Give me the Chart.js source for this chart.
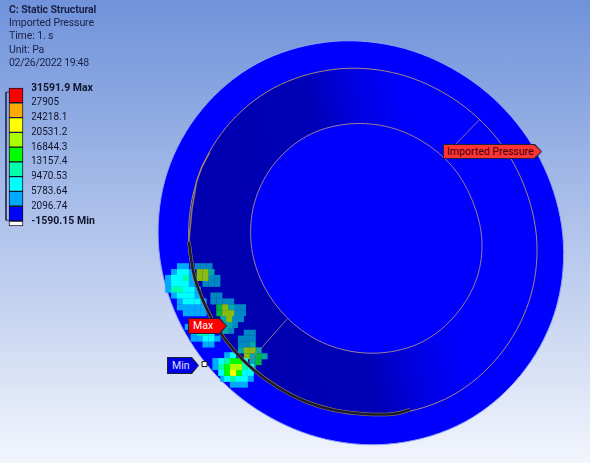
<!DOCTYPE html>
<html>
<head>
<meta charset="utf-8">
<script src="https://cdn.jsdelivr.net/npm/chart.js@4"></script>
<style>
  html, body { margin: 0; padding: 0; }
  body { width: 590px; height: 463px; overflow: hidden; background: linear-gradient(180deg, #6f92da 0%, #f2f5fc 100%); }
  #stage { position: relative; width: 590px; height: 463px; filter: blur(0.3px); font-family: Roboto, "Noto Sans", sans-serif; }
  canvas { position: absolute; display: block; }
  #main { left: 0; top: 0; }
  #legend { left: 0; top: 60px; }
  .info { position: absolute; left: 9px; font-size: 10.5px; letter-spacing: -0.1px; line-height: 13px; color: #1a2148; white-space: nowrap; }
  .tag { position: absolute; clip-path: polygon(0 0, calc(100% - 7px) 0, 100% 50%, calc(100% - 7px) 100%, 0 100%); background: #20203a; }
  .tag span { position: absolute; left: 1px; top: 1px; right: 1px; bottom: 1px; padding-left: 3px; font-size: 10.5px; white-space: nowrap;
    clip-path: polygon(0 0, calc(100% - 7px) 0, 100% 50%, calc(100% - 7px) 100%, 0 100%); }
</style>
</head>
<body>
<div id="stage">
  <canvas id="main" width="590" height="463"></canvas>
  <canvas id="legend" width="140" height="180"></canvas>
  <div class="info" style="top:3px;font-weight:700">C: Static Structural</div>
  <div class="info" style="top:16px">Imported Pressure</div>
  <div class="info" style="top:29px">Time: 1. s</div>
  <div class="info" style="top:43px">Unit: Pa</div>
  <div class="info" style="top:56px;letter-spacing:-0.3px">02/26/2022 19:48</div>
  <div class="tag" style="left:443px;top:144px;width:99px;height:15px"><span style="background:#ff3434;color:#3a0010;line-height:13px">Imported Pressure</span></div>
  <div class="tag" style="left:188px;top:318px;width:39px;height:16px"><span style="background:#ff0000;color:#fff;line-height:14px;padding-left:4px">Max</span></div>
  <div class="tag" style="left:167px;top:357px;width:32px;height:17px"><span style="background:#0000e6;color:#dfe6ff;line-height:15px;padding-left:4px">Min</span></div>
</div>
<script>
// contour legend
const contourValues = [-1590.15, 2096.74, 5783.64, 9470.53, 13157.4, 16844.3, 20531.2, 24218.1, 27905, 31591.9];
const contourLabels = ['-1590.15 Min', '2096.74', '5783.64', '9470.53', '13157.4', '16844.3', '20531.2', '24218.1', '27905', '31591.9 Max'];
const contourColors = ['#0000ff', '#00aaff', '#00ffff', '#00ffaa', '#00ff00', '#aaff00', '#ffff00', '#ffaa00', '#ff0000'];
const belowMin = -2840;

// outlines
const discEdge = [[568,243],[559,315],[524,379],[468,426],[398,448],[327,444],[262,417],[209,372],[172,312],[156,243],[165,171],[200,107],[256,60],[326,38],[397,42],[462,69],[515,114],[552,174]];
const middleRing = [[541,242],[533,303],[503,358],[455,399],[395,418],[334,414],[278,391],[232,352],[201,301],[187,242],[195,180],[225,125],[273,85],[333,66],[394,69],[450,92],[496,131],[527,182]];
const innerRing = [[485,239],[480,279],[459,316],[427,343],[388,355],[347,353],[310,338],[280,312],[259,278],[250,239],[255,198],[275,161],[307,134],[346,122],[387,124],[424,139],[455,165],[475,199]];
const contactArc = [[187,242],[192,275],[201,301],[215,329],[232,352],[253,373],[278,391],[305,405],[334,414],[365,418],[395,418],[412,414]];
const wornArc = [[208,151],[200,166],[195,180],[190,210],[187,242]];
const spokeUpper = [[483,117],[445,156]];
const spokeLower = [[287,321],[248,365]];
const bracket = [[6,89],[1,89],[1,220],[6,220]];
const minMarker = [[203,367]];

// pressure patches, one list per contour colour
const cellsBlue = [[178,267],[184,267],[172,273],[190,273],[166,279],[190,279],[166,285],[190,285],[166,291],[196,291],[172,297],[196,297],[178,303],[202,303],[178,309],[184,309],[190,309],[196,309],[202,309],[184,315],[190,315],[196,315],[202,315],[192,335],[186,329],[192,341],[198,341],[216,341],[204,347],[210,347],[226,358],[214,364],[214,370],[222,382],[250,382],[232,388],[238,388],[244,388]];
const cellsCyan = [[178,273],[184,273],[172,279],[178,279],[172,285],[178,285],[184,285],[184,291],[190,291],[178,297],[184,297],[190,297],[184,303],[190,303],[196,303],[210,335],[204,341],[210,341],[232,358],[220,364],[244,364],[250,370],[220,376],[244,376],[250,376],[226,382],[238,382],[244,382]];
const cellsFoam = [[184,279],[172,291],[178,291],[198,335],[204,335],[226,364],[220,370],[244,370],[232,382]];
const cellsGreen = [[232,364],[238,364],[226,370],[226,376],[238,376]];
const cellsLime = [[232,370],[238,370]];
const cellsYellow = [[232,376]];
const cellsSteel = [[196,267],[202,267],[208,267],[210,279],[216,279],[204,285],[210,285],[216,285],[212,297],[218,297],[212,303],[218,303],[224,303],[230,303],[236,309],[242,309],[236,315],[242,315],[234,321],[240,321],[234,327],[230,333],[246,335],[252,335],[240,341],[246,341],[252,341],[240,347],[246,347]];
const cellsTeal = [[210,273],[230,309],[222,321],[228,327],[222,327],[224,333],[252,347],[240,353],[258,353],[252,359],[264,359],[252,365],[252,371]];
const cellsOlive = [[198,273],[204,273],[198,279],[204,279],[224,309],[224,315],[230,315],[228,321],[246,353],[252,353],[246,359]];
const cellsDarkGreen = [[218,309],[218,315],[258,359],[258,365]];

const toPoints = list => list.map(p => ({ x: p[0], y: p[1] }));
// wrapped one point past both ends so the curve has proper tangents at the seam
const closed = list => toPoints([list[list.length - 1], ...list, list[0], list[1]]);

const ctx = document.getElementById('main').getContext('2d');

const ringShade = ctx.createLinearGradient(160, -35, 364, -81);
ringShade.addColorStop(0, '#0000b0');
ringShade.addColorStop(0.55, '#0000b6');
ringShade.addColorStop(0.75, '#0000dd');
ringShade.addColorStop(1, '#0000ff');

const roundness = 0.34;

function outline(data, color, width) {
  return { data: data, showLine: true, fill: false, borderColor: color, borderWidth: width, pointRadius: 0, tension: roundness };
}
// same, but the two wrapped end pieces are not stroked
function loop(list, color, width) {
  const data = closed(list);
  return { ...outline(data, color, width), segment: { borderColor: c => (c.p0DataIndex === 0 || c.p1DataIndex === data.length - 1) ? 'transparent' : undefined } };
}
function area(list, color, edge) {
  return { ...loop(list, edge || color, 1), fill: 'shape', backgroundColor: color };
}
function cells(list, color) {
  return { data: toPoints(list), showLine: false, pointStyle: 'rect', pointRadius: 4.3, pointBorderWidth: 0, pointBackgroundColor: color };
}

// first dataset ends up on top
new Chart(ctx, {
  type: 'scatter',
  data: {
    datasets: [
      { data: toPoints(minMarker), showLine: false, pointStyle: 'rect', pointRadius: 3.5, pointBorderWidth: 1, pointBorderColor: '#111', pointBackgroundColor: '#fff' },
      { ...outline(toPoints(bracket), '#27305c', 1), tension: 0 },
      outline(toPoints(contactArc), '#1c1c30', 2.6),
      outline(toPoints(contactArc), '#a08868', 3.6),
      loop(middleRing, '#a8887c', 1),
      loop(innerRing, '#9c7f8c', 1),
      { ...outline(toPoints(wornArc), '#8e7a64', 1.5), tension: 0 },
      { ...outline(toPoints(spokeUpper), '#8c7494', 1), tension: 0 },
      { ...outline(toPoints(spokeLower), '#8c7494', 1), tension: 0 },
      cells(cellsYellow, '#ffff00'),
      cells(cellsLime, '#aaff00'),
      cells(cellsGreen, '#00ff00'),
      cells(cellsFoam, '#00ffaa'),
      cells(cellsCyan, '#00ffff'),
      cells(cellsBlue, '#00aaff'),
      cells(cellsOlive, '#88bc10'),
      cells(cellsDarkGreen, '#00b840'),
      cells(cellsTeal, '#00a8a8'),
      cells(cellsSteel, '#0088c4'),
      area(innerRing, '#0000ff'),
      area(middleRing, ringShade),
      area(discEdge, '#0000ff', '#8fa0f4')
    ]
  },
  options: {
    responsive: false,
    animation: false,
    events: [],
    layout: { padding: 0 },
    plugins: { legend: { display: false }, tooltip: { enabled: false } },
    scales: {
      x: { type: 'linear', min: 0, max: 590, display: false },
      y: { type: 'linear', min: 0, max: 463, reverse: true, display: false }
    }
  }
});

// legend bands: one floating bar per contour interval
const bandSets = contourColors.map((color, i) => ({
  data: [[contourValues[i], contourValues[i + 1]]],
  backgroundColor: color
}));
bandSets.push({ data: [[belowMin, contourValues[0]]], backgroundColor: '#ffffff' });

new Chart(document.getElementById('legend'), {
  type: 'bar',
  data: {
    labels: ['contours'],
    datasets: bandSets.map(s => ({ ...s, grouped: false, barThickness: 14, borderWidth: 1, borderColor: '#10142c', borderSkipped: false }))
  },
  options: {
    responsive: false,
    animation: false,
    events: [],
    layout: { padding: { top: 24, bottom: 10, left: 0, right: 0 } },
    plugins: { legend: { display: false }, tooltip: { enabled: false } },
    scales: {
      x: { display: false },
      y: {
        position: 'right',
        min: -3835,
        max: 32590,
        border: { display: false },
        grid: { display: false, drawTicks: false },
        afterBuildTicks: scale => { scale.ticks = contourValues.map(v => ({ value: v })); },
        afterFit: scale => { scale.width = 108; },
        ticks: {
          autoSkip: false,
          padding: -1,
          color: '#10142c',
          callback: (v, i) => contourLabels[i],
          font: c => {
            const bold = c.index === 0 || c.index === contourValues.length - 1;
            return { family: 'Roboto, "Noto Sans", sans-serif', size: bold ? 10.5 : 10, weight: bold ? '700' : '400' };
          }
        }
      }
    }
  }
});
</script>
</body>
</html>
